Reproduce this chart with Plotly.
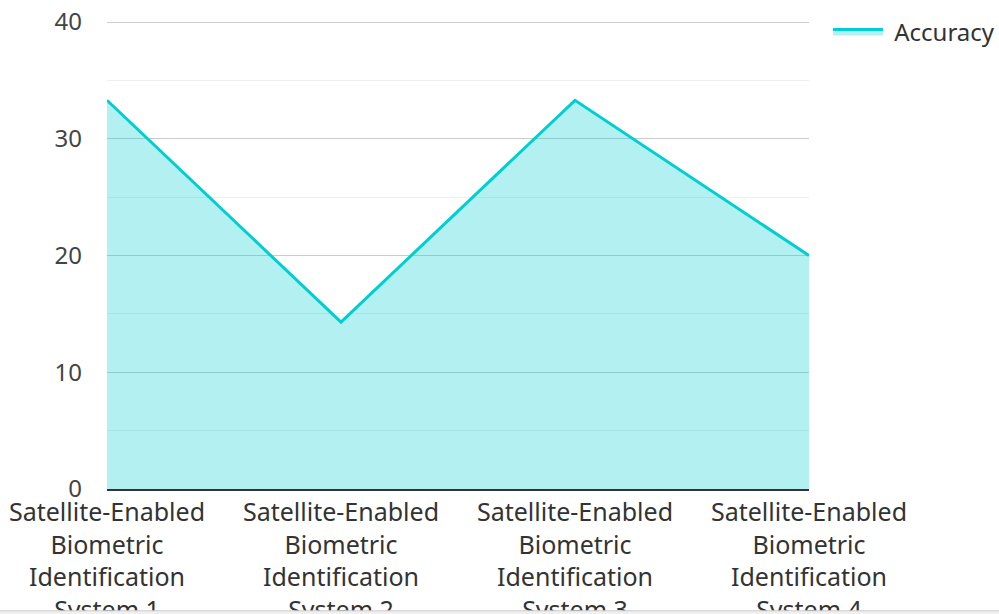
import plotly.graph_objects as go

categories = [
    "Satellite-Enabled<br>Biometric<br>Identification<br>System 1",
    "Satellite-Enabled<br>Biometric<br>Identification<br>System 2",
    "Satellite-Enabled<br>Biometric<br>Identification<br>System 3",
    "Satellite-Enabled<br>Biometric<br>Identification<br>System 4",
]
accuracy = [33.3, 14.3, 33.3, 20.0]
y_ticks = [0, 10, 20, 30, 40]

fig = go.Figure()
fig.add_trace(go.Scatter(
    x=categories, y=accuracy, name="\u00a0Accuracy", mode="lines",
    line=dict(color="#00CED1", width=3),
    fill="tozeroy", fillcolor="rgba(0,206,209,0.3)",
))

font_family = "Noto Sans"
FS = 25
fig.update_layout(
    width=999, height=614,
    margin=dict(l=107, r=190, t=18, b=125, autoexpand=False),
    paper_bgcolor="white", plot_bgcolor="white",
    font=dict(family=font_family, size=FS, color="#333"),
    showlegend=True,
    legend=dict(x=1.027, y=1.018, xanchor="left", yanchor="top", itemwidth=50,
                font=dict(size=24, color="#333"), bgcolor="rgba(0,0,0,0)"),
    xaxis=dict(
        range=[0, 3], showgrid=False, showline=True, linecolor="#333", linewidth=2,
        tickfont=dict(size=FS, color="#333"), ticks="", zeroline=False, automargin=False,
    ),
    yaxis=dict(
        range=[0, 40.35], tickvals=y_ticks, showgrid=True, gridcolor="#ccc", gridwidth=1,
        minor=dict(dtick=5, showgrid=True, gridcolor="#eee", gridwidth=1),
        zeroline=False, showline=False, ticks="", automargin=False,
        tickfont=dict(size=24, color="#444"), ticklabelstandoff=24,
    ),
)
# bottom border strip of the clipped page
fig.add_shape(type="rect", xref="paper", yref="paper", layer="above",
              x0=-0.16, x1=1.28, y0=-0.29, y1=-0.2586,
              fillcolor="#f0f0f0", line=dict(color="#cccccc", width=1))
fig.write_html("out.html")
